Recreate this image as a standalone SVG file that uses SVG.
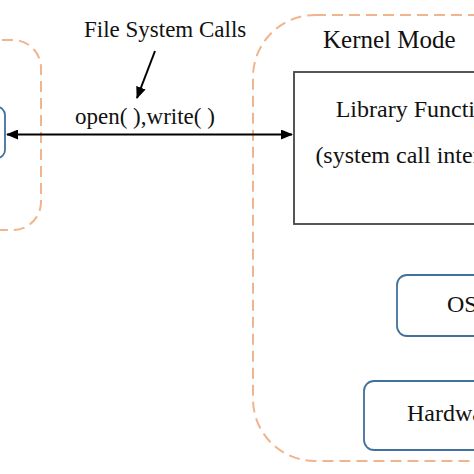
<svg xmlns="http://www.w3.org/2000/svg" width="474" height="474" viewBox="0 0 474 474">
<defs>
<style>
.dash{fill:none;stroke:#F0B48E;stroke-width:2;stroke-dasharray:11 6}
.blue{fill:#fff;stroke:#41719C;stroke-width:1.8}
.t{font-family:"Liberation Serif","Times New Roman",serif;fill:#111}
.conn{stroke:#000;stroke-width:2;fill:none}
</style>
<marker id="ah" viewBox="0 0 12 10" refX="11" refY="5" markerWidth="12" markerHeight="10" markerUnits="userSpaceOnUse" orient="auto-start-reverse">
<path d="M0,0 L12,5 L0,10 Z" fill="#000"/>
</marker>
</defs>
<rect width="474" height="474" fill="#fff"/>
<g id="user-mode">
<rect class="dash" x="-60" y="40" width="101" height="190" rx="28"/>
</g>
<g id="user-node">
<rect class="blue" x="-80" y="107" width="85" height="51" rx="8"/>
</g>
<g id="kernel-mode">
<rect class="dash" x="253" y="15" width="300" height="446" rx="62"/>
<text class="t" x="323" y="48" font-size="25">Kernel Mode</text>
</g>
<g id="library">
<rect x="294" y="72" width="256" height="152" fill="#fff" stroke="#444" stroke-width="1.8"/>
<text class="t" x="422" y="117" font-size="24" text-anchor="middle">Library Functions</text>
<text class="t" x="422" y="163" font-size="24" text-anchor="middle">(system call interface)</text>
</g>
<g id="os">
<rect class="blue" x="397" y="275" width="130" height="61" rx="10"/>
<text class="t" x="447" y="312" font-size="24">OS</text>
</g>
<g id="hardware">
<rect class="blue" x="364" y="381" width="180" height="69" rx="10"/>
<text class="t" x="407" y="421" font-size="24">Hardware</text>
</g>
<g id="connectors">
<line class="conn" x1="7" y1="134.5" x2="292" y2="134.5" marker-start="url(#ah)" marker-end="url(#ah)"/>
<line class="conn" x1="155" y1="51" x2="137" y2="98" marker-end="url(#ah)"/>
<text class="t" x="84" y="37" font-size="23">File System Calls</text>
<text class="t" x="75" y="124" font-size="23">open( ),write( )</text>
</g>
</svg>
